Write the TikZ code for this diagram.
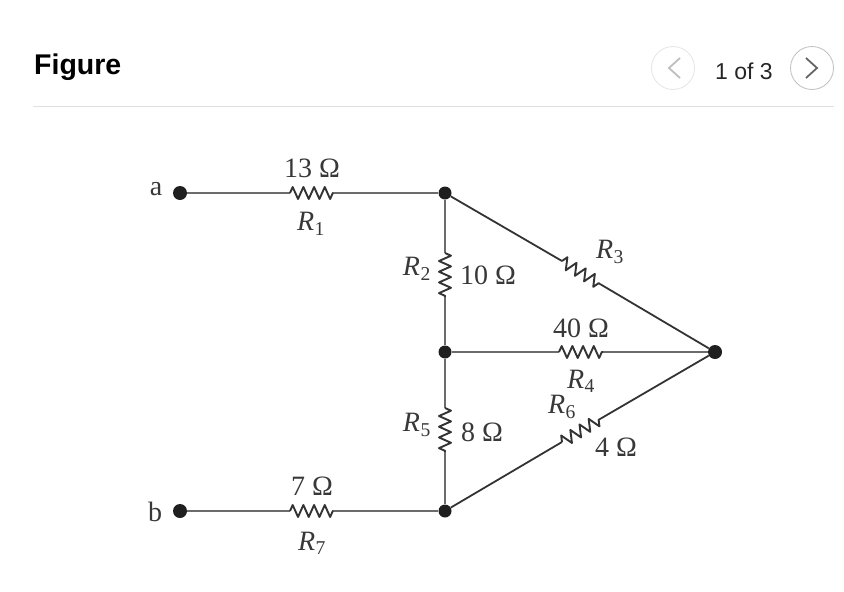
\documentclass[tikz,border=0pt]{standalone}
\usepackage{fontspec}
\setmainfont{Liberation Serif}
\setsansfont{Liberation Sans}
\usetikzlibrary{decorations.pathmorphing}
\definecolor{wiregray}{gray}{0.42}
\definecolor{inkgray}{gray}{0.2}
\definecolor{rulegray}{gray}{0.88}
\newcommand{\res}[1]{\textit{R}\kern.5pt\textsubscript{#1}}
\newcommand{\ohm}[1]{#1\kern7pt Ω}
\tikzset{
wire/.style={draw=wiregray, line width=2.6pt},
slant/.style={draw=inkgray, line width=1.8pt},
resistor/.style={draw=inkgray, line width=1.9pt, line join=round, decorate,
	decoration={zigzag, segment length=10.7pt, amplitude=6pt}},
dot/.style={circle, fill=black!88, inner sep=0pt, minimum size=#1},
lab/.style={text=black!78, font=\fontsize{28}{30}\selectfont, inner sep=0pt},
pager/.style={circle, draw=#1, line width=.8pt, fill=white, minimum size=43pt, inner sep=0pt}
}
\begin{document}
\begin{tikzpicture}[x=1pt, y=-1pt]
\useasboundingbox (0,0) rectangle (844,592);
%header
\node[anchor=west, inner sep=0pt, font=\sffamily\bfseries\fontsize{28.5}{30}\selectfont] (title) at (34,67) {Figure};
\node[anchor=west, inner sep=0pt, text=black!85, font=\sffamily\fontsize{23}{25}\selectfont] (count) at (715,71) {1 of 3};
\coordinate (rule left) at (33,106);
\coordinate (rule right) at (834,106);
\draw[rulegray, line width=.8pt] (rule left) -- (rule right);
\node[pager=black!10] (prev) at (673,68) {};
\node[pager=black!25] (next) at (812,68) {};
\draw[black!25, line width=1.8pt] (680,58) -- (669,68) -- (680,78);
\draw[black!60, line width=1.8pt] (806,58) -- (817,68) -- (806,78);
%junctions
\foreach \name/\x/\y/\s in {a/180/193/14pt, b/180/511/14pt, top/445/193/13pt, mid/445/352/13pt, bot/445/511/13pt, right/715/352/14pt}
\node[dot=\s] (\name) at (\x,\y) {};
%resistor ends
\foreach \name/\x/\y in {ra/290/193, rb/333/193, rc/445/253, rd/445/297, re/562/261, rf/600/284,
	rg/559/352, rh/603/352, ri/445/408, rj/445/452, rk/562/442, rl/600/419, rm/290/511, rn/333/511}
\coordinate (\name) at (\x,\y);
%wires
\draw[wire] (a) -- (ra);
\draw[wire] (rb) -- (top);
\draw[wire] (top) -- (rc);
\draw[wire] (rd) -- (mid);
\draw[wire] (mid) -- (rg);
\draw[wire] (rh) -- (right);
\draw[wire] (mid) -- (ri);
\draw[wire] (rj) -- (bot);
\draw[wire] (b) -- (rm);
\draw[wire] (rn) -- (bot);
\draw[slant] (top) -- (re);
\draw[slant] (rf) -- (right);
\draw[slant] (bot) -- (rk);
\draw[slant] (rl) -- (right);
%resistors
\draw[resistor] (ra) -- (rb);
\draw[resistor] (rc) -- (rd);
\draw[resistor] (re) -- (rf);
\draw[resistor] (rg) -- (rh);
\draw[resistor] (ri) -- (rj);
\draw[resistor] (rk) -- (rl);
\draw[resistor] (rm) -- (rn);
%labels
\node[lab] (la) at (156,189) {a};
\node[lab] (lb) at (155,512) {b};
\node[lab] (v1) at (312,168) {\ohm{13}};
\node[lab] (n1) at (311,224) {\res{1}};
\node[lab, anchor=east] (n2) at (431,269) {\res{2}};
\node[lab, anchor=west] (v2) at (460,275) {\ohm{10}};
\node[lab] (n3) at (610,252) {\res{3}};
\node[lab] (v4) at (581,328) {\ohm{40}};
\node[lab] (n4) at (581,381) {\res{4}};
\node[lab, anchor=east] (n5) at (431,425) {\res{5}};
\node[lab, anchor=west] (v5) at (461,432) {\ohm{8}};
\node[lab] (n6) at (562,407) {\res{6}};
\node[lab] (v6) at (616,447) {\ohm{4}};
\node[lab] (v7) at (312,486) {\ohm{7}};
\node[lab] (n7) at (312,543) {\res{7}};
\end{tikzpicture}
\end{document}
